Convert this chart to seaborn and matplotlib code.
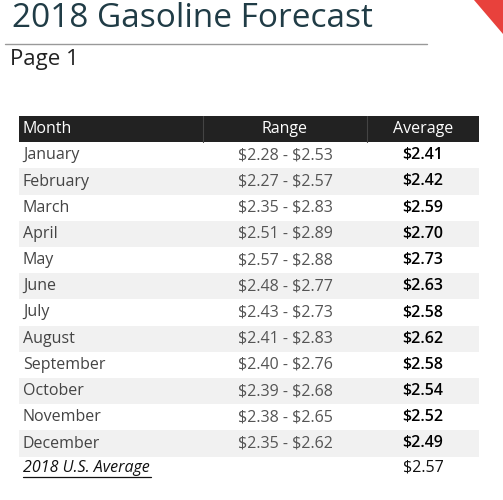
import matplotlib
matplotlib.use("Agg")
import matplotlib.pyplot as plt
import seaborn as sns
from matplotlib.patches import Polygon

# --- Data ---
months = ["January", "February", "March", "April", "May", "June", "July",
          "August", "September", "October", "November", "December"]
low = [2.28, 2.27, 2.35, 2.51, 2.57, 2.48, 2.43, 2.41, 2.40, 2.39, 2.38, 2.35]
high = [2.53, 2.57, 2.83, 2.89, 2.88, 2.77, 2.73, 2.83, 2.76, 2.68, 2.65, 2.62]
average = [2.41, 2.42, 2.59, 2.70, 2.73, 2.63, 2.58, 2.62, 2.58, 2.54, 2.52, 2.49]
us_average = 2.57
headers = ["Month", "Range", "Average"]

sns.set_theme(style="white")
plt.rcParams['font.family'] = ['Open Sans', 'DejaVu Sans']
plt.rcParams['text.parse_math'] = False

fig = plt.figure(figsize=(5.03, 5.0), dpi=100)
ax = fig.add_axes([0, 0, 1, 1])
ax.set_xlim(0, 503)
ax.set_ylim(500, 0)
ax.axis("off")

# --- Title area ---
ax.text(12, 27, "2018 Gasoline Forecast", fontsize=24, color="#203c46",
        va="baseline", ha="left")
ax.plot([5, 427], [43.5, 43.5], color="#999999", lw=1)
ax.text(10, 59, "Page 1", fontsize=16, color="#222222", va="center", ha="left")
ax.add_patch(Polygon([[474, 0], [503, 0], [503, 34]], closed=True,
                     color="#e8413c", lw=0))

# --- Table ---
left, right = 19, 479
top, row_h = 116, 26.2
col_sep = [203, 367]
col_x = [23, 285, 423]
fs = 11.5

ax.fill_between([left, right], top, top + row_h, color="#222222", lw=0)
for sx in col_sep:
    ax.plot([sx, sx], [top, top + row_h], color="#444444", lw=0.8)
ax.text(col_x[0], top + row_h / 2, headers[0], color="white", fontsize=fs, va="center")
for i in (1, 2):
    ax.text(col_x[i], top + row_h / 2, headers[i], color="white", fontsize=fs,
            va="center", ha="center")

for i, m in enumerate(months):
    y0 = top + row_h * (i + 1)
    yc = y0 + row_h / 2
    if i % 2 == 1:
        ax.fill_between([left, right], y0, y0 + row_h, color="#f1f1f1", lw=0)
    ax.text(col_x[0], yc, m, fontsize=fs, color="#444444", va="center")
    ax.text(col_x[1], yc, f"${low[i]:.2f} - ${high[i]:.2f}", fontsize=fs,
            color="#555555", va="center", ha="center")
    ax.text(col_x[2], yc, f"${average[i]:.2f}", fontsize=fs, color="black",
            va="center", ha="center", fontweight="semibold")

yc = top + row_h * 13 + row_h / 2 - 2
ax.text(col_x[0], yc, "2018 U.S. Average", fontsize=fs, color="#111111",
        va="center", style="italic")
ax.plot([col_x[0], 151], [yc + 9, yc + 9], color="#111111", lw=0.9)
ax.text(col_x[2], yc, f"${us_average:.2f}", fontsize=fs, color="#111111",
        va="center", ha="center")

fig.savefig("out.png", dpi=100)
plt.close(fig)
